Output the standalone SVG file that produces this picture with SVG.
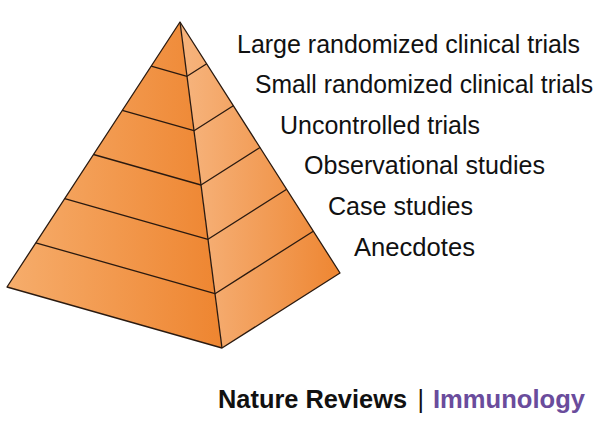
<svg xmlns="http://www.w3.org/2000/svg" width="600" height="427" viewBox="0 0 600 427">
<defs>
<linearGradient id="gl" gradientUnits="userSpaceOnUse" x1="7" y1="0" x2="222" y2="0">
<stop offset="0" stop-color="#f6ad6c"/>
<stop offset="1" stop-color="#ee8530"/>
</linearGradient>
<linearGradient id="gr" gradientUnits="userSpaceOnUse" x1="190" y1="0" x2="340" y2="0">
<stop offset="0" stop-color="#f6b27a"/>
<stop offset="1" stop-color="#ee8632"/>
</linearGradient>
<style>
.l{fill:url(#gl);}
.r{fill:url(#gr);}
.e{fill:none;stroke:#2a1a10;stroke-width:1.3;stroke-linejoin:round;}
.t{font-family:"Liberation Sans",Arial,sans-serif;font-size:24.9px;fill:#111;}
.f{font-family:"Liberation Sans",Arial,sans-serif;font-size:25.4px;font-weight:bold;}
</style>
</defs>
<g id="pyramid">
<polygon class="l" points="180,22 7,287 222,348"/>
<polygon class="r" points="180,22 222,348 340,273"/>
</g>
<g id="bands" class="e">
<polyline points="151.2,66.2 187,76.3 206.7,63.8"/>
<polyline points="122.3,110.3 194,130.7 233.3,105.7"/>
<polyline points="93.5,154.5 201,185 260,147.5"/>
<polyline points="64.7,198.7 208,239.3 286.7,189.3"/>
<polyline points="35.8,242.8 215,293.7 313.3,231.2"/>
<polygon points="180,22 7,287 222,348 340,273"/>
<line x1="180" y1="22" x2="222" y2="348"/>
</g>
<g id="labels">
<text class="t" x="237" y="52.5" textLength="343" lengthAdjust="spacingAndGlyphs">Large randomized clinical trials</text>
<text class="t" x="255" y="93" textLength="338" lengthAdjust="spacingAndGlyphs">Small randomized clinical trials</text>
<text class="t" x="280" y="133.5" textLength="200" lengthAdjust="spacingAndGlyphs">Uncontrolled trials</text>
<text class="t" x="304" y="174" textLength="241" lengthAdjust="spacingAndGlyphs">Observational studies</text>
<text class="t" x="328" y="215" textLength="145" lengthAdjust="spacingAndGlyphs">Case studies</text>
<text class="t" x="354" y="255.5" textLength="121" lengthAdjust="spacingAndGlyphs">Anecdotes</text>
</g>
<g id="footer">
<text class="f" x="218" y="407.5" fill="#111" textLength="189" lengthAdjust="spacingAndGlyphs">Nature Reviews</text>
<text x="417.5" y="407.5" font-family="Liberation Sans,Arial,sans-serif" font-size="25" fill="#111">|</text>
<text class="f" x="433" y="407.5" fill="#6a4c9c" textLength="152" lengthAdjust="spacingAndGlyphs">Immunology</text>
</g>
</svg>
